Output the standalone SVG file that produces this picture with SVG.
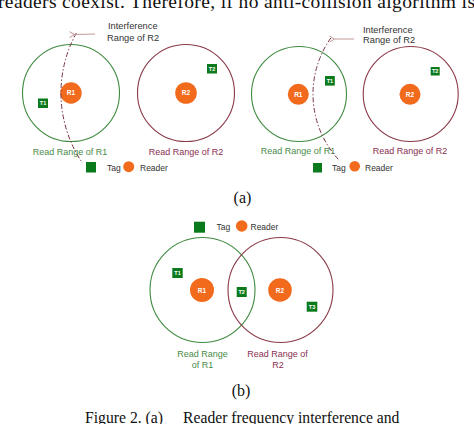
<svg xmlns="http://www.w3.org/2000/svg" width="474" height="424" viewBox="0 0 474 424">
<defs>
<style>
.serif{font-family:"Liberation Serif","Times New Roman",serif;fill:#111}
.sans{font-family:"Liberation Sans",Arial,sans-serif}
.gr{fill:none;stroke:#3f8a3f;stroke-width:1.1}
.rr{fill:none;stroke:#8a3a48;stroke-width:1.1}
.rd{fill:#f26a1c}
.tg{fill:#0b7a1c}
.rl{fill:#fff;font-size:6.5px;font-weight:bold;text-anchor:middle}
.tl{fill:#fff;font-size:5.5px;font-weight:bold;text-anchor:middle}
.lg{fill:#4a8c4a;font-size:9px;text-anchor:middle}
.lr{fill:#8a3050;font-size:9px;text-anchor:middle}
.leg{fill:#333;font-size:8.5px}
.intf{fill:#333;font-size:9.3px}
.arc{fill:none;stroke:#7a3545;stroke-width:1;stroke-dasharray:5 2 1.5 2}
.arw{fill:none;stroke:#c49a9a;stroke-width:1}
</style>
<marker id="ah" markerWidth="8" markerHeight="8" refX="1" refY="4" orient="auto" markerUnits="userSpaceOnUse">
<polyline points="6,1 1,4 6,7" fill="none" stroke="#c49a9a" stroke-width="1"/>
</marker>
</defs>
<rect width="474" height="424" fill="#fff"/>
<text class="serif" x="-2" y="7.5" font-size="19.5" textLength="477" lengthAdjust="spacing">readers coexist.  Therefore, if no anti-collision algorithm is</text>

<!-- (a) left -->
<g id="a-left-r1-range"><circle class="gr" cx="71" cy="93" r="48.5"/></g>
<g id="a-left-r2-range"><circle class="rr" cx="186" cy="93" r="48.5"/></g>
<g id="a-left-R1"><circle class="rd" cx="71" cy="93" r="10.7"/><text class="sans rl" x="71" y="95.3">R1</text></g>
<g id="a-left-R2"><circle class="rd" cx="186" cy="93" r="10.8"/><text class="sans rl" x="186" y="95.3">R2</text></g>
<g id="a-left-T1"><rect class="tg" x="38" y="98.5" width="10" height="9.5"/><text class="sans tl" x="43" y="105.2">T1</text></g>
<g id="a-left-T2"><rect class="tg" x="207" y="64" width="10" height="9.5"/><text class="sans tl" x="212" y="70.8">T2</text></g>
<g id="a-left-labels">
<text class="sans lg" x="70" y="154.5">Read Range of R1</text>
<text class="sans lr" x="186" y="154.5">Read Range of R2</text>
<text class="sans intf" x="108" y="29">Interference</text>
<text class="sans intf" x="107" y="41">Range of R2</text>
</g>
<g id="a-left-legend">
<rect class="tg" x="86" y="162" width="10" height="10.5"/>
<text class="sans leg" x="107" y="171">Tag</text>
<circle class="rd" cx="128.7" cy="166.7" r="5.5"/>
<text class="sans leg" x="140" y="171">Reader</text>
</g>

<!-- (a) right -->
<g id="a-right-r1-range"><circle class="gr" cx="299" cy="94" r="47.5"/></g>
<g id="a-right-r2-range"><circle class="rr" cx="410.7" cy="94" r="47.5"/></g>
<g id="a-right-R1"><circle class="rd" cx="298.3" cy="94.3" r="10.5"/><text class="sans rl" x="298.3" y="96.6">R1</text></g>
<g id="a-right-R2"><circle class="rd" cx="410" cy="94.3" r="10.5"/><text class="sans rl" x="410" y="96.6">R2</text></g>
<g id="a-right-T1"><rect class="tg" x="325" y="76" width="9.8" height="9.6"/><text class="sans tl" x="329.9" y="82.8">T1</text></g>
<g id="a-right-T2"><rect class="tg" x="430.7" y="67" width="9" height="8.5"/><text class="sans tl" x="435.2" y="73.3">T2</text></g>
<g id="a-right-labels">
<text class="sans lg" x="298" y="154">Read Range of R1</text>
<text class="sans lr" x="410" y="154">Read Range of R2</text>
<text class="sans intf" x="363" y="32.5">Interference</text>
<text class="sans intf" x="363" y="42.5">Range of R2</text>
</g>
<g id="a-right-legend">
<rect class="tg" x="313" y="163" width="9" height="9.5"/>
<text class="sans leg" x="332" y="171">Tag</text>
<circle class="rd" cx="354.7" cy="166.3" r="5.3"/>
<text class="sans leg" x="365" y="171">Reader</text>
</g>

<g id="connectors">
<path class="arc" d="M 76.3 33 A 125 125 0 0 0 82.4 163"/>
<path class="arc" d="M 330.8 38 A 97 97 0 0 0 338.9 160"/>
<line class="arw" x1="95" y1="34" x2="74.5" y2="34.5" marker-end="url(#ah)"/>
<line class="arw" x1="354" y1="39" x2="334.5" y2="39" marker-end="url(#ah)"/>
</g>

<text class="serif" x="242.5" y="203" font-size="16" text-anchor="middle">(a)</text>

<!-- (b) -->
<g id="b-r1-range"><circle class="gr" cx="202.5" cy="290" r="52.5"/></g>
<g id="b-r2-range"><circle class="rr" cx="280.5" cy="290" r="52.5"/></g>
<g id="b-R1"><circle class="rd" cx="202" cy="290" r="12"/><text class="sans rl" x="202" y="292.5">R1</text></g>
<g id="b-R2"><circle class="rd" cx="280" cy="290" r="11.8"/><text class="sans rl" x="280" y="292.5">R2</text></g>
<g id="b-T1"><rect class="tg" x="172.3" y="268" width="10.4" height="10"/><text class="sans tl" x="177.5" y="275">T1</text></g>
<g id="b-T2"><rect class="tg" x="236.7" y="287" width="10" height="10"/><text class="sans tl" x="241.7" y="294">T2</text></g>
<g id="b-T3"><rect class="tg" x="306.7" y="301.7" width="10.6" height="10"/><text class="sans tl" x="312" y="308.7">T3</text></g>
<g id="b-legend">
<rect class="tg" x="194" y="221.7" width="11" height="11"/>
<text class="sans leg" x="216.5" y="230" font-size="9">Tag</text>
<circle class="rd" cx="241.7" cy="226" r="5.8"/>
<text class="sans leg" x="250.5" y="230" font-size="9">Reader</text>
</g>
<g id="b-labels">
<text class="sans lg" x="202.5" y="356.5" font-size="9.5" fill="#7a9a3e">Read Range</text>
<text class="sans lg" x="202.5" y="367.5" font-size="9.5" fill="#5a9a4a">of R1</text>
<text class="sans lr" x="277.5" y="356.5" font-size="9.5">Read Range of</text>
<text class="sans lr" x="278" y="367.5" font-size="9.5">R2</text>
</g>

<text class="serif" x="241" y="396" font-size="16" text-anchor="middle">(b)</text>
<text class="serif" x="85" y="423" font-size="15.7">Figure 2. (a)</text>
<text class="serif" x="183" y="423" font-size="15.7">Reader frequency interference and</text>
</svg>
